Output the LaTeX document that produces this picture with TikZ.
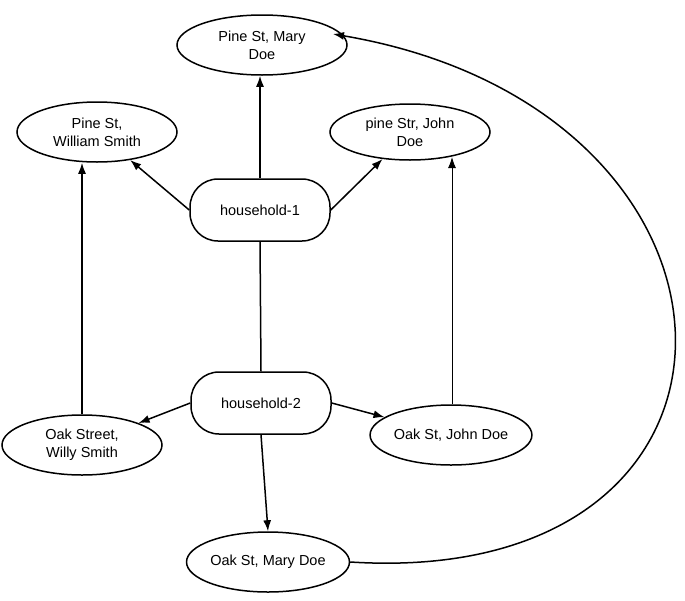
\documentclass[tikz,border=0pt]{standalone}
\usepackage{fontspec}
\setmainfont{Liberation Sans}
\usetikzlibrary{shapes.geometric,arrows.meta}
\begin{document}
\begin{tikzpicture}[x=1pt,y=-1pt,
  ell/.style={ellipse,draw,line width=1.5pt,minimum width=#1,minimum height=60pt,inner sep=0pt,align=center,font=\fontsize{14.5}{18}\selectfont},
  hh/.style={rectangle,rounded corners=28pt,draw,line width=1.5pt,minimum width=140pt,minimum height=62pt,font=\fontsize{14.5}{18}\selectfont},
  arr/.style={line width=1.5pt,-{Latex[length=11pt,width=8pt]}},
  thin arr/.style={line width=1pt,-{Latex[length=11pt,width=8pt]}}]
\useasboundingbox (0,0) rectangle (685,600);
\node[ell=170pt] (mary) at (262,45) {Pine St, Mary\\Doe};
\node[ell=160pt] (will) at (97,132) {Pine St,\\William Smith};
\node[ell=160pt,minimum height=56pt] (pjohn) at (410,132) {pine Str, John\\Doe};
\node[hh] (h1) at (260,210) {household-1};
\node[hh] (h2) at (261,403) {household-2};
\node[ell=160pt] (willy) at (82,445) {Oak Street,\\Willy Smith};
\node[ell=152pt] (ojohn) at (451,435) {Oak St, John Doe};
\node[ell=161pt] (omary) at (268,562) {Oak St, Mary Doe};
\coordinate (pj) at (452,157);
\coordinate (mq) at (333,34);
\draw[arr] (h1.north) -- (h1.north |- mary.south);
\draw[arr] (h1.west) -- (will);
\draw[arr] (h1.east) -- (pjohn);
\draw[line width=1.5pt] (h2.north) -- (h1.south);
\draw[arr] (h2.west) -- (willy);
\draw[arr] (h2.east) -- (ojohn);
\draw[arr] (h2.south) -- (omary.north);
\draw[arr] (willy.north) -- (willy.north |- will.south);
\draw[thin arr] (ojohn.north -| pj) -- (pj);
\draw[arr] (omary.east) .. controls (790,590) and (780,110) .. (mq);
\end{tikzpicture}
\end{document}
